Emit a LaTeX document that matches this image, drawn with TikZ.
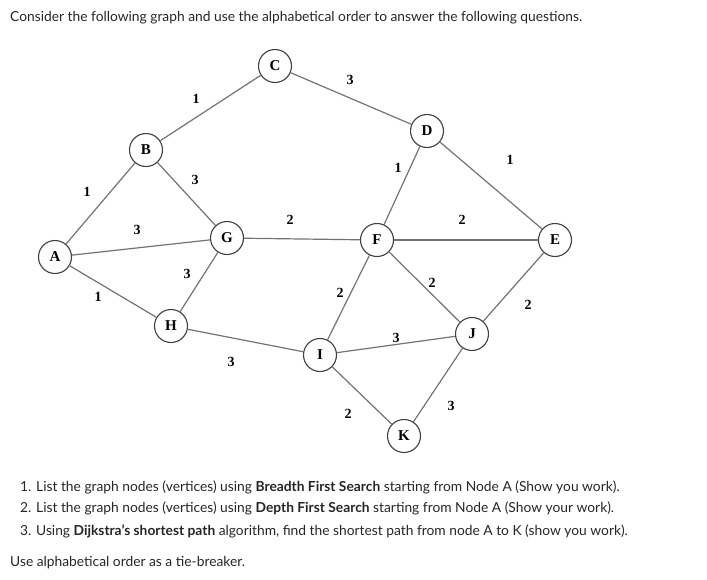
\documentclass[tikz,border=0pt]{standalone}
\usepackage{fontspec}
\setmainfont{Lato}
\newfontfamily\serifb{Liberation Serif}
\begin{document}
\begin{tikzpicture}[x=1pt,y=-1pt,
  vtx/.style={circle,draw=black!75,line width=1.1pt,minimum size=33pt,inner sep=0pt,fill=white,font=\serifb\fontsize{15}{15}\selectfont\bfseries},
  edge/.style={draw=black!55,line width=1.2pt},
  wt/.style={font=\serifb\fontsize{14}{14}\selectfont\bfseries,inner sep=0pt},
  txt/.style={anchor=west,inner sep=0pt,font=\fontsize{13.8}{16}\selectfont,text=black!85}]
\useasboundingbox (0,0) rectangle (707,579);
\foreach \a/\b in {A/B,A/G,A/H,B/C,B/G,C/D,D/F,D/E,G/F,F/E,G/H,F/I,F/J,E/J,I/J,H/I,I/K,K/J}{}
\node[vtx] (A) at (55,257) {A};
\node[vtx] (B) at (146,150) {B};
\node[vtx] (C) at (275,66) {C};
\node[vtx] (D) at (427,131) {D};
\node[vtx] (E) at (555,240) {E};
\node[vtx] (F) at (377,240) {F};
\node[vtx] (G) at (227,238) {G};
\node[vtx] (H) at (171,326) {H};
\node[vtx] (I) at (320,355) {I};
\node[vtx] (J) at (472,334) {J};
\node[vtx] (K) at (404,436) {K};
\foreach \a/\b in {A/B,A/G,A/H,B/C,B/G,C/D,D/F,D/E,G/F,F/E,G/H,F/I,F/J,E/J,I/J,H/I,I/K,K/J}
  \draw[edge] (\a) -- (\b);
\node[wt] (w1) at (87,192) {1};
\node[wt] (w2) at (137,230) {3};
\node[wt] (w3) at (98,297) {1};
\node[wt] (w4) at (196,99) {1};
\node[wt] (w5) at (195,180) {3};
\node[wt] (w6) at (350,80) {3};
\node[wt] (w7) at (398,168) {1};
\node[wt] (w8) at (510,160) {1};
\node[wt] (w9) at (290,220) {2};
\node[wt] (w10) at (462,220) {2};
\node[wt] (w11) at (187,274) {3};
\node[wt] (w12) at (340,293) {2};
\node[wt] (w13) at (432,283) {2};
\node[wt] (w14) at (528,305) {2};
\node[wt] (w15) at (396,338) {3};
\node[wt] (w16) at (231,362) {3};
\node[wt] (w17) at (348,414) {2};
\node[wt] (w18) at (451,406) {3};
\node[txt] (t0) at (10,18) {Consider the following graph and use the alphabetical order to answer the following questions.};
\node[txt] (t1) at (20,487) {1. List the graph nodes (vertices) using \textbf{Breadth First Search} starting from Node A (Show you work).};
\node[txt] (t2) at (20,508) {2. List the graph nodes (vertices) using \textbf{Depth First Search} starting from Node A (Show your work).};
\node[txt] (t3) at (20,531) {3. Using \textbf{Dijkstra's shortest path} algorithm, find the shortest path from node A to K (show you work).};
\node[txt] (t4) at (10,563) {Use alphabetical order as a tie-breaker.};
\end{tikzpicture}
\end{document}
